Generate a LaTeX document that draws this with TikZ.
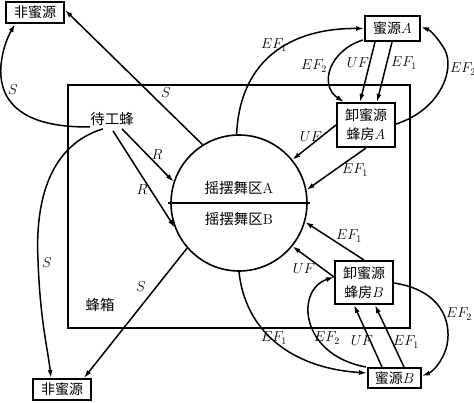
\documentclass[tikz,border=0pt]{standalone}
\usepackage{fontspec}
\newfontfamily\cjk{Noto Sans CJK SC}
\usetikzlibrary{arrows.meta}
\begin{document}
\begin{tikzpicture}[x=1pt,y=-1pt,
  box/.style={draw,line width=2pt,inner sep=0pt,align=center,font=\cjk\fontsize{14}{19}\selectfont},
  arr/.style={line width=1.5pt,-{Latex[length=8pt,width=5pt]}},
  lab/.style={font=\fontsize{14}{16}\selectfont,inner sep=0pt},
  cjkt/.style={font=\cjk\fontsize{14.5}{16}\selectfont,inner sep=0pt}]
\useasboundingbox (0,0) rectangle (474,402);
% hive
\node[draw,line width=1.6pt,minimum width=342pt,minimum height=243pt,inner sep=0pt] (hive) at (239,206.5) {};
\node[cjkt] (hivelab) at (100,305) {蜂箱};
% boxes
\node[box,minimum width=58pt,minimum height=21pt] (nt) at (35,12.5) {非蜜源};
\node[box,minimum width=58pt,minimum height=21pt] (nb) at (62,389.5) {非蜜源};
\node[box,minimum width=55pt,minimum height=25pt] (ma) at (392.5,28.5) {蜜源$A$};
\node[box,minimum width=58pt,minimum height=44pt] (ha) at (366,125) {卸蜜源\\蜂房$A$};
\node[box,minimum width=58pt,minimum height=43pt] (hb) at (364,282.5) {卸蜜源\\蜂房$B$};
\node[box,minimum width=53pt,minimum height=20pt] (mb) at (394.5,378) {蜜源$B$};
% worker
\node[cjkt] (worker) at (112,119) {待工蜂};
% dance circle
\node[circle,draw,line width=1.6pt,minimum size=136pt,inner sep=0pt] (dance) at (239,203) {};
\draw[line width=2pt] ([xshift=-2.5pt]dance.west) -- ([xshift=2.5pt]dance.east);
\node[cjkt] (da) at (239,188) {摇摆舞区{\rmfamily A}};
\node[cjkt] (db) at (239,219) {摇摆舞区{\rmfamily B}};
% worker connectors
\draw[arr] ([yshift=-1pt]worker.south west) .. controls (20,128) and (-2,100) .. (1,65)
  .. controls (3,45) and (10,33) .. ([xshift=10pt]nt.south west);
\node[lab] at (13,90) {$S$};
\draw[arr] ([xshift=-9pt,yshift=-3pt]worker.south) .. controls (50,145) and (35,200) .. (38,260)
  .. controls (40,320) and (48,350) .. ([xshift=19pt]nb.north west);
\node[lab] at (47,263) {$S$};
\draw[arr] ([xshift=10pt,yshift=-3pt]worker.south) -- (dance.162);
\node[lab] at (157,155) {$R$};
\draw[arr] ([xshift=1pt,yshift=-5pt]worker.south) -- (dance.201);
\node[lab] at (142,190) {$R$};
% dance to non-sources
\draw[arr] (dance.122) -- ([yshift=2.5pt]nt.east);
\node[lab] at (166,93) {$S$};
\draw[arr] (dance.221) -- ([xshift=-8pt]nb.north east);
\node[lab] at (141,287) {$S$};
% A side
\draw[arr] (dance.92) .. controls (240,60) and (290,28) .. (ma.west);
\node[lab] at (274,45) {$EF_1$};
\draw[arr] ([xshift=-1pt,yshift=2pt]ma.south west) .. controls (330,50) and (318,85) .. ([xshift=8pt]ha.north west);
\node[lab] at (314,66) {$EF_2$};
\draw[arr] ([xshift=-17.5pt]ma.south) -- ([xshift=-6pt]ha.north);
\node[lab] at (358,63) {$UF$};
\draw[arr] ([xshift=-0.5pt]ma.south) -- ([xshift=11pt]ha.north);
\node[lab] at (404,63) {$EF_1$};
\draw[arr] ([yshift=1pt]ha.east) .. controls (440,110) and (455,70) .. (445,50)
  .. controls (438,38) and (430,30) .. ([yshift=1.5pt]ma.east);
\node[lab] at (463,69) {$EF_2$};
\draw[arr] (ha.west) -- (dance.39);
\node[lab] at (311,137) {$UF$};
\draw[arr] (ha.south) -- (dance.11);
\node[lab] at (355,170) {$EF_1$};
% B side
\draw[arr] (hb.north) -- (dance.344);
\node[lab] at (349,236) {$EF_1$};
\draw[arr] ([yshift=5.5pt]hb.west) -- (dance.321);
\node[lab] at (304,269) {$UF$};
\draw[arr] (dance.south) .. controls (245,330) and (290,368) .. ([yshift=5pt]mb.west);
\node[lab] at (274,338) {$EF_1$};
\draw[arr] ([xshift=-1pt]mb.north west) .. controls (300,355) and (295,290) .. ([yshift=5.5pt]hb.west);
\node[lab] at (327,338) {$EF_2$};
\draw[arr] ([xshift=-12.5pt]mb.north) -- ([xshift=-10pt]hb.south);
\node[lab] at (362,341) {$UF$};
\draw[arr] ([xshift=9.5pt]mb.north) -- ([xshift=11pt]hb.south);
\node[lab] at (406,342) {$EF_1$};
\draw[arr] ([yshift=-0.5pt]hb.east) .. controls (440,290) and (452,320) .. (447,345)
  .. controls (443,362) and (432,372) .. ([yshift=2pt]mb.east);
\node[lab] at (459,314) {$EF_2$};
\end{tikzpicture}
\end{document}
